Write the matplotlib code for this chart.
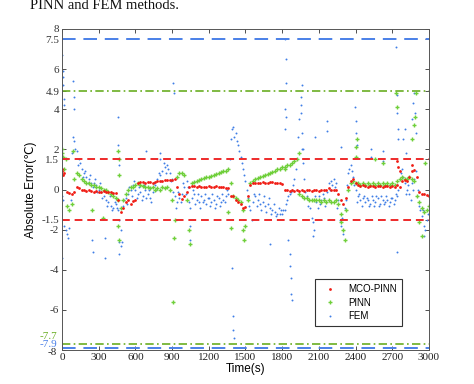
import numpy as np
import matplotlib
matplotlib.use("Agg")
import matplotlib.pyplot as plt
import matplotlib.transforms as mtransforms

# time grid, 20 s step (main series) and the in-between 10 s points for FEM
t_main = np.arange(0, 3001, 20)
t_half = np.arange(10, 3000, 20)

# MCO-PINN absolute error (each row = 300 s)
mco = [0.9, 0.8, -0.1, -0.15, -0.2, -0.1, 0.1, 0.05, 0.0, 0.0, -0.05, 0.0, -0.05, -0.1, -0.05,
       -0.1, -0.1, -0.05, -0.1, -0.1, -0.1, -0.15, -0.15, -0.5, -1.1, -0.9, -0.6, -0.5, -0.7, -0.55,
       -0.5, 0.3, 0.35, 0.35, 0.3, 0.35, 0.35, 0.3, 0.35, 0.4, 0.4, 0.4, 0.45, 0.45, 0.45,
       0.45, 0.5, 0.1, -0.2, -0.45, -0.3, -0.1, 0.1, 0.15, 0.15, 0.1, 0.15, 0.1, 0.1, 0.1,
       0.15, 0.1, 0.1, 0.15, 0.1, 0.1, 0.1, 0.05, 0.05, -0.3, -0.3, -0.5, -0.6, -0.7, -0.9,
       -0.85, -0.3, 0.2, 0.3, 0.3, 0.3, 0.3, 0.35, 0.3, 0.3, 0.35, 0.35, 0.3, 0.3, 0.3,
       0.25, 0.0, 0.0, -0.05, 0.0, -0.05, 0.0, -0.05, 0.0, -0.05, 0.0, 0.0, -0.05, 0.0, 0.0,
       -0.05, 0.0, 0.0, 0.0, 0.05, 0.0, 0.0, 0.0, -0.2, -0.5, -0.7, -0.4, 0.1, 0.4, 0.5,
       0.3, 0.2, 0.15, 0.2, 0.15, 0.1, 0.15, 0.15, 0.1, 0.15, 0.15, 0.1, 0.15, 0.15, 0.1,
       0.15, 0.1, 0.2, 0.1, 0.4, 0.45, 0.4, 0.6, 0.9, 0.95, 0.6, -0.1, -0.2, -0.2, -0.25,
       -0.3]
mco_out_t = [0, 10, 2740, 2750, 2760, 2860]
mco_out_v = [1.0, 0.7, 1.4, 1.1, 0.9, 1.2]

# PINN absolute error
pinn = [1.8, 1.0, -0.8, -1.0, -0.7, 0.5, 0.8, 0.7, 0.5, 0.4, 0.3, 0.3, 0.2, 0.2, 0.1,
        0.1, 0.05, 0.0, 0.0, -0.1, -0.2, -0.3, -0.4, -0.5, -0.9, -0.5, -0.2, 0.0, 0.1, 0.1,
        0.2, 0.3, 0.2, 0.15, 0.1, 0.1, 0.05, 0.1, 0.0, 0.05, 0.0, 0.1, 0.05, 0.1, 0.0,
        -0.5, -1.5, 0.6, 0.8, 0.8, 0.7, -0.5, -2.0, 0.3, 0.35, 0.4, 0.45, 0.5, 0.55, 0.6,
        0.6, 0.65, 0.7, 0.75, 0.8, 0.85, 0.9, 0.9, 1.0, 0.3, -0.3, -0.4, -0.5, -0.6, -1.0,
        -1.8, -0.5, 0.3, 0.4, 0.5, 0.55, 0.6, 0.65, 0.7, 0.75, 0.8, 0.85, 0.9, 1.0, 1.0,
        1.1, 1.1, 1.2, 1.2, 1.3, 1.4, 1.5, -0.2, -0.3, -0.4, -0.4, -0.5, -0.5, -0.5, -0.5,
        -0.5, -0.6, -0.5, -0.6, -0.5, -0.6, -0.6, -0.5, -0.7, -1.2, -2.0, -1.0, 0.0, 0.3, 0.4,
        0.3, 0.3, 0.2, 0.3, 0.2, 0.3, 0.2, 0.3, 0.2, 0.3, 0.2, 0.3, 0.2, 0.3, 0.2,
        0.3, 0.2, 0.4, 0.5, 0.6, 0.5, 0.5, 0.6, 0.5, 0.4, -0.3, -0.6, -0.9, -1.1, -1.0,
        -0.8]
pinn_out_t = [0, 10, 30, 90, 460, 465, 470, 245, 335, 455, 470, 905, 915, 1045, 1355, 1380,
              1480, 1490, 2280, 2310, 2400, 2405, 2410, 2560, 2620, 2735, 2730, 2865, 2875,
              2885, 2890, 2920, 2940, 2965, 1823, 1940]
pinn_out_v = [2.0, 1.6, 1.5, 1.9, 1.9, 1.5, 0.7, -1.0, -1.4, -1.8, -2.5, -5.6, -2.4, -2.7, -1.1, -1.9,
              -2.0, -2.5, -1.6, -2.5, 1.6, 2.1, 2.5, 1.5, 1.3, 4.1, 4.8, 2.5, 3.2,
              3.6, 4.8, -1.6, -2.3, 1.3, 1.0, 1.8]

# FEM absolute error
fem_a = [-0.3, -1.8, -2.2, -1.9, 1.8, 2.4, 1.9, 1.5, 1.0, 0.8, 0.6, 0.5, 0.3, 0.3, 0.2,
         0.0, -0.1, -0.3, -0.5, -0.6, -0.8, -0.9, -0.7, -1.0, -2.0, -0.8, -0.4, -0.2, 0.0, 0.2,
         0.0, -0.2, -0.1, -0.3, 0.0, -0.2, -0.4, -0.1, 0.2, 0.5, 0.7, 0.9, 1.1, 1.2, 0.8,
         0.5, -0.3, -0.6, -0.4, -0.2, 0.1, 0.4, -0.6, -0.4, -0.2, -0.5, -0.6, -0.3, -0.5, -0.7,
         -0.4, -0.6, -0.5, -0.7, -0.4, -0.6, -0.5, -0.3, -0.2, 2.5, 3.1, 2.8, 2.2, 1.6, 1.0,
         0.4, -0.4, -1.0, -0.6, -0.3, -0.5, -0.7, -0.6, -0.8, -0.7, -0.9, -1.0, -1.1, -1.2, -1.2,
         -1.2, -1.0, -0.5, -0.2, 0.0, 0.5, 1.5, 3.5, 2.0, 0.5, -0.3, -0.5, -1.4, -2.0, -0.6,
         -0.3, -0.5, -0.4, -0.6, 0.3, 0.4, 0.5, 0.3, -0.5, -1.8, -2.2, -0.5, 0.8, 1.2, 0.6,
         0.0, -0.3, -0.5, -0.4, -0.6, -0.5, -0.7, -0.5, -0.6, -0.4, -0.7, -0.5, -0.6, -0.5, -0.6,
         -0.4, -0.5, -0.3, 0.5, 1.0, 0.3, 0.0, -0.2, 0.3, 0.5, -0.3, -0.8, -1.3, -1.8, -1.5,
         -1.0]
fem_b = [-0.5, -2.0, -2.4, -0.5, 2.6, 2.0, 1.2, 1.3, 0.6, 0.9, 0.3, 0.7, 0.1, 0.5, -0.1,
         0.3, -0.4, 0.0, -0.8, -0.3, -1.0, -0.6, -0.9, -1.5, -2.6, -0.5, -0.7, 0.1, -0.3, 0.4,
         -0.4, 0.1, -0.5, 0.2, -0.4, 0.0, -0.6, 0.3, 0.0, 0.8, 0.4, 1.3, 0.8, 1.0, 0.4,
         -0.1, -0.9, -0.1, -0.6, 0.3, -0.2, 0.1, -0.9, 0.0, -0.7, -0.2, -0.9, -0.6, -0.2, -0.4,
         -0.8, -0.2, -0.9, -0.3, -0.8, -0.2, -0.6, 0.0, 1.5, 3.0, 2.6, 2.4, 1.9, 1.3, 0.7,
         0.0, -0.8, -1.5, -0.2, -0.8, -0.2, -1.0, -0.3, -1.1, -0.4, -1.2, -0.7, -1.3, -0.9, -1.0,
         -1.0, -0.7, -0.3, -0.1, 0.2, 1.0, 2.6, 4.2, 1.3, -0.1, -0.8, -0.9, -1.6, -0.3, -0.9,
         -0.7, -0.2, -0.8, -0.1, 0.0, 0.2, 0.1, -0.9, -1.5, -1.4, -0.9, 0.2, 1.0, 0.9, 0.2,
         -0.6, -0.2, -0.8, -0.3, -0.4, -0.8, -0.3, -0.8, -0.3, -0.8, -0.3, -0.7, -0.3, -0.8, -0.4,
         -0.7, -0.2, 0.0, 0.8, 0.6, -0.2, 0.2, -0.5, 0.0, 0.9, 0.0, -1.0, -1.0, -2.0, -1.2]
fem_out_t = [0, 5, 8, 12, 15, 20, 90, 95, 100, 0, 460, 460, 470, 245, 250, 350, 350, 465, 470, 480,
             690, 800, 805, 910, 915, 1390, 1395, 1400, 1405,
             1823, 1830, 1835, 1825, 1828, 1820, 1960, 1950, 1955, 1965, 1970,
             1850, 1860, 1865, 1870, 1875, 1880,
             2070, 2165, 2165, 2280, 2395, 2400, 2405, 2410, 2525, 2525, 2625, 2625,
             2730, 2735, 2740, 2745, 2750, 2790, 2800, 2810, 2860, 2870, 2880, 2885, 2890,
             1700, 2740, 1045, 1050, 2050, 2960]
fem_out_v = [6.7, 5.9, 5.6, 5.2, 4.5, 4.2, 5.4, 4.6, 4.0, -3.4, 3.6, 2.2, 1.2, -2.5, -3.1, -2.4, -3.4, -2.6, -3.2, -2.8,
             1.9, 1.8, 1.5, 5.3, 4.8, -3.9, -6.3, -7.0, -7.4,
             7.5, 6.5, 5.3, 4.0, 3.6, 3.0, 5.2, 4.6, 3.8, 2.8, 2.0,
             -2.5, -3.2, -3.8, -4.4, -5.2, -5.5,
             2.6, 3.4, 2.9, 2.1, 4.1, 3.4, 2.8, 2.2, 2.0, 1.6, 1.9, 1.4,
             7.1, 4.7, 3.8, 3.0, 2.5, 2.5, 3.0, 1.8, 3.5, 4.3, 4.8, 3.8, 2.8,
             -2.7, -3.1, -1.8, -2.5, -2.3, -2.3]

# bound lines
fem_bounds = [7.5, -7.9]
pinn_bounds = [4.9, -7.7]
mco_bounds = [1.5, -1.5]

c_red = "#f01c14"
c_green = "#6fcf3a"
c_blue = "#3f7ee6"
c_red_line = "#ee2a2a"
c_green_line = "#6aae23"
c_blue_line = "#4a80e8"

serif = ["Liberation Serif", "DejaVu Serif"]
sans = ["Liberation Sans", "DejaVu Sans"]
fs_tick = 8

fig = plt.figure(figsize=(4.74, 3.84), dpi=100)
ax = fig.add_axes([62 / 474, 34 / 384, 367 / 474, 321 / 384])

fem_t = np.concatenate([t_main, t_half, fem_out_t])
fem_v = np.concatenate([fem_a, fem_b, fem_out_v])
h_fem, = ax.plot(fem_t, fem_v, ".", color=c_blue, ms=2.8, mew=0, label="FEM")
h_pinn, = ax.plot(np.concatenate([t_main, pinn_out_t]), np.concatenate([pinn, pinn_out_v]),
                  "+", color=c_green, ms=3.0, mew=1.0, label="PINN")
h_mco, = ax.plot(np.concatenate([t_main, mco_out_t]), np.concatenate([mco, mco_out_v]),
                 ".", color=c_red, ms=4.0, mew=0, label="MCO-PINN")

for v in fem_bounds:
    ax.axhline(v, color=c_blue_line, lw=1.4, ls=(0, (7, 4)))
for v in pinn_bounds:
    ax.axhline(v, color=c_green_line, lw=1.2, ls=(0, (5, 2, 1, 2)))
for v in mco_bounds:
    ax.axhline(v, color=c_red_line, lw=1.4, ls=(0, (4, 2.5)))

ax.set_xlim(0, 3000)
ax.set_ylim(-8, 8)
ax.set_xticks(np.arange(0, 3001, 300))
ax.set_xticklabels([str(v) for v in range(0, 3001, 300)], family=serif, fontsize=fs_tick)

# -8 gets its own label below, the rest are normal ticks
main_y = [-6, -4, -2, 0, 2, 4, 6, 8]
extra_y = [7.5, 4.9, 1.5, -1.5]
extra_c = [c_blue_line, c_green_line, c_red_line, c_red_line]
ax.set_yticks([-8] + main_y + extra_y)
ax.set_yticklabels([""] + [str(v) for v in main_y] + [str(v) for v in extra_y],
                   family=serif, fontsize=fs_tick)
for lab, col in zip(ax.get_yticklabels()[1 + len(main_y):], extra_c):
    lab.set_color(col)
for lab in ax.get_yticklabels()[:1 + len(main_y)]:
    lab.set_color("#222222")

# the lower labels sit too close together, so they are nudged apart as in the original
trans = mtransforms.blended_transform_factory(ax.transAxes, ax.transData)
ax.text(-0.013, -7.33, "-7.7", color=c_green_line, transform=trans, ha="right", va="center",
        family=serif, fontsize=fs_tick)
ax.text(-0.013, -7.73, "-7.9", color=c_blue_line, transform=trans, ha="right", va="center",
        family=serif, fontsize=fs_tick)
ax.text(-0.013, -8.12, "-8", color="#222222", transform=trans, ha="right", va="center",
        family=serif, fontsize=fs_tick)

ax.tick_params(direction="in", top=True, right=True, length=3, width=0.6, pad=2, colors="#333333")
for lab in ax.get_xticklabels():
    lab.set_color("#222222")
for s in ax.spines.values():
    s.set_color("#555555")
    s.set_linewidth(0.7)

ax.set_xlabel("Time(s)", family=sans, fontsize=8.5, labelpad=1)
ax.set_ylabel("Absolute Error(\u2103)", family=sans, fontsize=8.5, labelpad=3)

leg = ax.legend(handles=[h_mco, h_pinn, h_fem], loc="lower right", bbox_to_anchor=(0.94, 0.06),
                fancybox=False, edgecolor="#333333", framealpha=1, markerscale=1.0,
                prop={"family": sans, "size": 7}, handlelength=2.2, borderpad=0.5,
                labelspacing=0.35)
leg.get_frame().set_linewidth(0.8)

fig.text(30 / 474, 1 - 9 / 384, "PINN and FEM methods.", family=serif, fontsize=10.5,
         va="baseline", ha="left", color="#111111")

fig.savefig("out.png", dpi=100)
